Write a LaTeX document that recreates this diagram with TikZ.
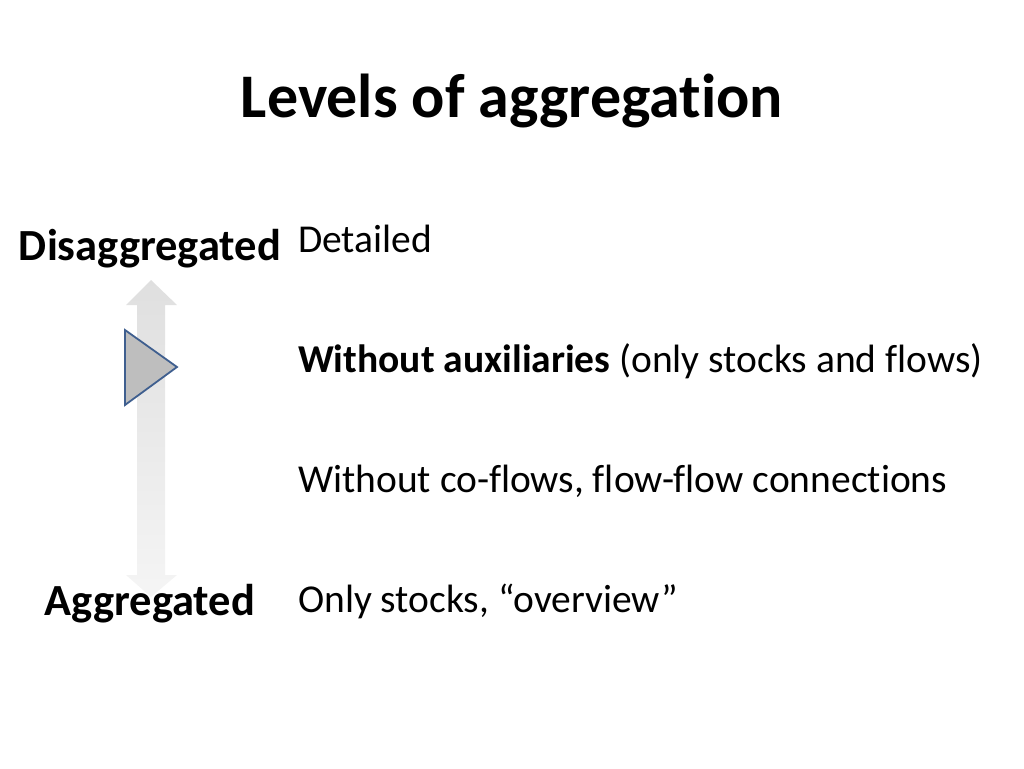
\documentclass[tikz,border=0pt]{standalone}
\usepackage{fontspec}
\setmainfont{Carlito}[RawFeature=-liga]
\begin{document}
\begin{tikzpicture}[x=1pt,y=-1pt,
  body/.style={anchor=base west,font=\fontsize{39.5}{44}\selectfont,inner sep=0},
  side/.style={anchor=base,font=\fontsize{44.5}{50}\selectfont\bfseries,inner sep=0}]
\useasboundingbox (0,0) rectangle (1024,768);
\node[anchor=base,font=\fontsize{62}{70}\selectfont\bfseries,inner sep=0] (title) at (512,117) {Levels of aggregation};
\shade[top color=gray!25,bottom color=gray!8]
  (151,280) -- (177,305) -- (165,305) -- (165,575) -- (177,575) -- (151,597) -- (126,575) -- (137,575) -- (137,305) -- (126,305) -- cycle;
\draw[draw={rgb,255:red,63;green,95;blue,143},line width=1.8pt,fill={rgb,255:red,190;green,190;blue,190},line join=miter]
  (125,330) -- (177,367) -- (125,405) -- cycle;
\node[side] (dis) at (150,260) {Disaggregated};
\node[side] (agg) at (150,615) {Aggregated};
\node[body] (l1) at (298,252) {Detailed};
\node[body] (l2) at (298,372) {\textbf{Without auxiliaries} (only stocks and flows)};
\node[body] (l3) at (298,492) {Without co-flows, flow-flow connections};
\node[body] (l4) at (298,612) {Only stocks, “overview”};
\end{tikzpicture}
\end{document}
